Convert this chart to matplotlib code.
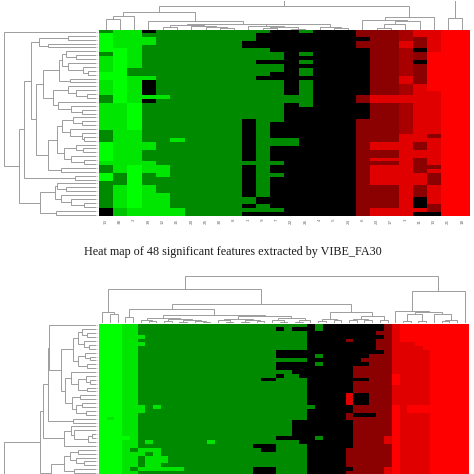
import matplotlib
matplotlib.use('Agg')
import matplotlib.pyplot as plt
import numpy as np
from matplotlib.colors import ListedColormap

# expression levels, 0 = full green, 4 = black, 8 = full red
level_colors = ['#00ff00', '#00e600', '#00c400', '#008a00', '#000000',
                '#8b0000', '#a80000', '#e00000', '#ff0000']

# VIBE_FA30 heat map, one list of (level, row count) per column
fa30_runs = [
    [(3,1),(0,5),(3,1),(1,4),(0,2),(1,4),(3,2),(1,7),(3,3),(0,5),(1,1),(3,2),(0,2),(3,7),(4,2)],
    [(1,5),(0,14),(1,18),(3,3),(1,6),(2,2)],
    [(1,10),(3,2),(1,7),(0,7),(1,9),(0,11),(1,2)],
    [(4,1),(3,1),(1,2),(3,8),(1,1),(4,4),(1,1),(4,1),(3,10),(1,2),(3,3),(1,3),(3,3),(1,8)],
    [(3,17),(1,1),(3,17),(1,3),(3,4),(1,6)],
    [(3,28),(1,1),(3,17),(1,2)],
    [(3,48)], [(3,48)], [(3,48)], [(3,48)],
    [(3,3),(4,2),(3,18),(4,11),(3,1),(4,8),(3,2),(4,1),(3,1),(4,1)],
    [(3,1),(4,4),(3,3),(4,1),(3,3),(4,1),(3,30),(4,2),(3,2),(4,1)],
    [(4,6),(3,2),(4,1),(3,2),(4,2),(3,11),(4,4),(3,2),(4,4),(3,1),(4,2),(3,1),(4,8),(3,1),(4,1)],
    [(4,17),(3,2),(4,9),(3,2),(4,18)],
    [(3,1),(4,5),(3,1),(4,1),(3,1),(4,1),(3,2),(4,1),(3,7),(4,28)],
    [(4,48)], [(4,48)], [(4,48)],
    [(5,2),(4,1),(5,2),(4,12),(5,2),(4,4),(5,25)],
    [(5,17),(7,2),(5,10),(7,2),(5,2),(7,1),(5,1),(7,5),(5,6),(7,2)],
    [(5,17),(7,2),(5,10),(7,2),(5,2),(7,1),(5,1),(7,5),(5,6),(7,2)],
    [(6,3),(7,2),(6,7),(7,2),(6,3),(7,2),(6,8),(7,21)],
    [(7,2),(5,3),(4,1),(5,2),(4,1),(5,5),(7,15),(5,2),(7,2),(5,4),(7,3),(5,3),(4,3),(7,1),(4,1)],
    [(7,6),(8,10),(7,11),(5,1),(7,7),(5,1),(7,1),(5,3),(7,5),(5,2),(4,1)],
    [(8,48)], [(8,48)],
]

# second heat map, only the rows above the page edge
lower_runs = [
    [(0,39)],
    [(0,24),(1,1),(0,14)],
    [(0,39)],
    [(1,29),(0,1),(1,9)],
    [(1,32),(3,1),(1,4),(3,1),(1,1)],
    [(3,3),(1,1),(3,1),(1,1),(3,15),(1,2),(3,9),(1,2),(3,3),(1,1),(3,1)],
    [(3,30),(1,1),(3,1),(1,1),(3,1),(1,4),(3,1)],
    [(3,21),(1,1),(3,10),(1,6),(3,1)],
    [(3,34),(1,2),(3,1),(1,1),(3,1)],
    [(3,37),(1,1),(3,1)],
    [(3,37),(1,1),(3,1)],
    [(3,39)], [(3,39)], [(3,39)],
    [(3,30),(1,1),(3,8)],
    [(3,39)], [(3,39)], [(3,39)], [(3,39)], [(3,39)],
    [(3,31),(4,1),(3,5),(4,2)],
    [(3,14),(4,1),(3,16),(4,2),(3,4),(4,2)],
    [(3,14),(4,1),(3,16),(4,2),(3,4),(4,2)],
    [(3,1),(4,1),(3,5),(4,2),(3,1),(4,2),(3,1),(4,1),(3,15),(4,1),(3,9)],
    [(3,7),(4,2),(3,1),(4,2),(3,17),(4,1),(3,9)],
    [(3,1),(4,1),(3,5),(4,2),(3,1),(4,3),(3,12),(4,5),(3,9)],
    [(3,1),(4,1),(3,5),(4,2),(3,1),(4,4),(3,11),(4,6),(3,8)],
    [(4,21),(3,1),(4,17)],
    [(3,2),(4,6),(3,1),(4,1),(3,1),(4,18),(3,1),(4,9)],
    [(4,39)], [(4,39)], [(4,39)],
    [(4,4),(5,1),(4,13),(7,3),(4,2),(5,2),(4,7),(5,5),(4,1),(5,1)],
    [(4,11),(5,3),(4,1),(5,3),(4,3),(5,2),(4,1),(5,15)],
    [(4,9),(5,1),(4,1),(5,3),(4,1),(5,3),(4,3),(5,2),(4,1),(5,15)],
    [(4,8),(5,15),(4,1),(5,15)],
    [(4,2),(5,1),(4,1),(5,3),(4,1),(5,31)],
    [(5,29),(7,2),(5,6),(7,2)],
    [(7,13),(8,3),(7,5),(8,18)],
    [(8,5),(7,34)],
    [(8,5),(7,16),(8,2),(7,16)],
    [(8,6),(7,15),(8,2),(7,16)],
    [(8,7),(7,14),(8,2),(7,16)],
    [(8,39)], [(8,39)], [(8,39)], [(8,39)], [(8,39)],
]

fa30_labels = ['13', '38', '2', '39', '12', '15', '20', '25', '30', '8', '1', '9', '7',
               '22', '26', '4', '5', '24', '6', '23', '17', '3', '11', '10', '21', '18']

caption = 'Heat map of 48 significant features extracted by VIBE_FA30'

# dendrograms: (merge height in px, child, child), a plain int is a leaf
fa30_top_tree = (40,
    (24,
        (17.3,
            (14, (11, 0, 1), 2),
            (8.3, 3, (6,
                (5, (3, 4, 5), (3.5, 6, (2.5, 7, (1.5, 8, 9)))),
                (5.2, (3.5, 10, (3, (1.5, 11, 12), (1, 13, 14))), (3, 15, (1.5, 16, 17)))))),
        (12.5, (10, 18, (8.3, (5.5, (2, 19, 20), 21), 22)), 23)),
    (11.7, 24, 25))

fa30_left_tree = (92, 0, (77,
    (72,
        (65,
            (57, (28, 1, 2), (48, 3, 4)),
            (60,
                (53,
                    (37, (34, (30, 5, (20, 6, 7)), (28, 8, (13, 9, (8, 10, 11)))), (26, 12, 13)),
                    (43, (28, 14, (20, 15, (9, 16, 17))), (38, 18, (25, 19, (14, 20, 21))))),
                (48,
                    (39,
                        (34, (23, 22, (14, 23, 24)), (26, 25, (14, 26, (12, 27, 28)))),
                        (32, (20, 29, (13, 30, 31)), (25, 32, (12, 33, 34)))),
                    (35, 35, 36)))),
        (21, 37, 38)),
    (56,
        (41, (39, 39, (30, 40, 41)), (35, 42, (25, 43, (12, 44, 45)))),
        (40, 46, 47))))

lower_top_tree = (47,
    (34.3,
        (10.7, 0, (9, 1, 2)),
        (19,
            (13.7,
                (5.6, 3, 4),
                (8.3,
                    (5.5, (3, 5, (2, 6, 7)), (4.5, (2, 8, 9), (3.5, (1.5, 10, 11), (2, 12, (1, 13, 14))))),
                    (7,
                        (4, (3, 15, (1.5, 16, 17)), (3, (1.5, 18, 19), (2, 20, 21))),
                        (5, (3, 22, (1, 23, 24)), (3.5, (1.5, 25, 26), 27))))),
            (10.7,
                (4.5, (2.5, 28, 29), (3, 30, 31)),
                (7, (4.5, (3, 32, 33), (3, 34, 35)), (3.5, 36, 37))))),
    (32.7,
        (11.7, 38, (11,
            (9, (2.5, 39, 40), (2, 41, 42)),
            (9.5, 43, (3.5, (2, 44, 45), 46)))),
        47))

lower_left_tree = (92,
    (56,
        (53,
            (48,
                (47, 0, (35.3,
                    (22.7, (18, (14, 1, (9, 2, 3)), (12, 4, (7, 5, 6))), (18, (11, 7, (6, 8, 9)), (9, 10, 11))),
                    (31, (25, 12, (18, (10, 13, (6, 14, 15)), (9, 16, 17))),
                         (24, (16, 18, 19), (20, (14, 20, 21), (10, 22, 23)))))),
                (22.7, 24, 25)),
            (32, (25, 26, (22, 27, (8, (4, 28, 29), 30))), 31)),
        (45,
            (32, (26, (18, 32, 33), (20, 34, (12, 35, 36))), (22, 37, 38)),
            (40, (30, 39, 40), (30, 41, 42)))),
    (70, 50, 51))

FIG_PX = 474
BRANCH = '#9c9c9c'
cmap = ListedColormap(level_colors)


def expand(runs):
    return np.array([np.repeat([r[0] for r in col], [r[1] for r in col]) for col in runs]).T


def px_axes(fig, left, top, right, bottom):
    # axes box given in pixels from the top left of the page
    ax = fig.add_axes([left / FIG_PX, 1 - bottom / FIG_PX,
                       (right - left) / FIG_PX, (bottom - top) / FIG_PX])
    ax.set_axis_off()
    return ax


def draw_tree(ax, node, on_left=False):
    if isinstance(node, int):
        return node + 0.5, 0
    height, a, b = node
    pa, ha = draw_tree(ax, a, on_left)
    pb, hb = draw_tree(ax, b, on_left)
    pos = [pa, pa, pb, pb]
    hts = [ha, height, height, hb]
    if on_left:
        ax.plot(hts, pos, color=BRANCH, lw=0.7, solid_joinstyle='miter')
    else:
        ax.plot(pos, hts, color=BRANCH, lw=0.7, solid_joinstyle='miter')
    return (pa + pb) / 2, height


def draw_block(fig, runs, top_tree, left_tree, box, row_px, top_space, left_space):
    left, top, right = box
    grid = expand(runs)
    nrows, ncols = grid.shape
    bottom = top + nrows * row_px

    ax = px_axes(fig, left, top, right, bottom)
    ax.imshow(grid, cmap=cmap, vmin=-0.5, vmax=8.5, aspect='auto', interpolation='nearest')

    ax_top = px_axes(fig, left, top - top_space, right, top - 0.5)
    draw_tree(ax_top, top_tree)
    ax_top.set_xlim(0, ncols)
    ax_top.set_ylim(0, top_space)

    ax_left = px_axes(fig, left - left_space, top, left - 2.5, bottom)
    draw_tree(ax_left, left_tree, on_left=True)
    ax_left.set_xlim(left_space - 2.5, 0)
    ax_left.set_ylim(nrows, 0)

    # row ticks between the tree and the cells
    ticks = px_axes(fig, left - 2.5, top, left - 0.5, bottom)
    ticks.hlines(np.arange(nrows) + 0.5, 0, 1, color='#b5b5b5', lw=0.5)
    ticks.set_xlim(0, 1)
    ticks.set_ylim(nrows, 0)
    return ax, bottom


fig = plt.figure(figsize=(FIG_PX / 100, FIG_PX / 100), dpi=100, facecolor='white')

ax1, bottom1 = draw_block(fig, fa30_runs, fa30_top_tree, fa30_left_tree,
                          (98.5, 30, 469.5), 3.885, 29, 98.5)
for i, lab in enumerate(fa30_labels):
    ax1.annotate(lab, (i, 47.5), xytext=(0, -1.5), textcoords='offset points',
                 rotation=90, ha='center', va='top', fontsize=3, color='#666666')

fig.text(233 / FIG_PX, 1 - 252 / FIG_PX, caption, family='Liberation Serif',
         fontsize=8.7, color='#1a1a1a', ha='center', va='center')

draw_block(fig, lower_runs, lower_top_tree, lower_left_tree,
           (98.5, 323.5, 468.5), 3.885, 53.5, 98.5)

plt.savefig('out.png', dpi=100)
